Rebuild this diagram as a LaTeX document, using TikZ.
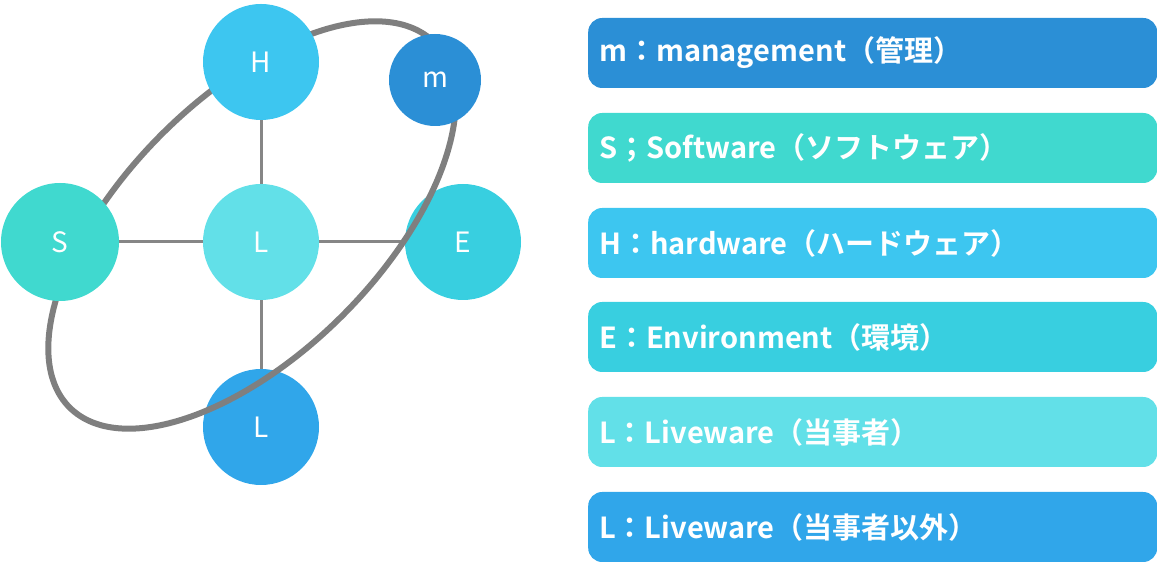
\documentclass[tikz,border=0pt]{standalone}
\usepackage{fontspec}
\setmainfont{Noto Sans CJK JP}
\newfontfamily\cjkb{Noto Sans CJK JP Bold}
\begin{document}
\begin{tikzpicture}[x=1pt,y=1pt,
  circ/.style={circle,draw=none,text=white,font=\fontsize{28}{30}\selectfont},
  box/.style={rounded corners=14pt,minimum width=569pt,minimum height=70pt,anchor=west,text=white,inner sep=0pt,
     text width=547pt,align=left,font=\cjkb\fontsize{29}{31}\selectfont},
  link/.style={draw=gray!95,line width=3pt}]
\definecolor{cm}{HTML}{2B8FD6}\definecolor{cs}{HTML}{40D9CF}\definecolor{ch}{HTML}{3DC6F0}
\definecolor{ce}{HTML}{38CFE0}\definecolor{cl}{HTML}{62E0E8}\definecolor{clb}{HTML}{30A6EA}
\definecolor{eg}{HTML}{7F7F7F}
\useasboundingbox (0,0) rectangle (1157,573);
\coordinate (Hc) at (261,511); \coordinate (Sc) at (60,331);
\coordinate (Lc) at (261,331); \coordinate (Ec) at (463,331); \coordinate (Bc) at (261,146);
\draw[link] (Hc)--(Lc) (Sc)--(Lc) (Lc)--(Ec) (Lc)--(Bc);
\node[circ,fill=ce,minimum size=116pt] (E) at (Ec) {E};
\node[circ,fill=clb,minimum size=116pt] (B) at (Bc) {L};
\draw[eg,line width=6pt,rotate around={45:(252,348)}] (252,348) ellipse (258pt and 128pt);
\node[circ,fill=ch,minimum size=116pt] (H) at (Hc) {H};
\node[circ,fill=cs,minimum size=118pt] (S) at (Sc) {S};
\node[circ,fill=cl,minimum size=116pt] (L) at (Lc) {L};
\node[circ,fill=cm,minimum size=92pt] (m) at (435,493) {m};
\node[box,fill=cm] (b1) at (588,520) {m：management（管理）};
\node[box,fill=cs] (b2) at (588,425) {S；Software（ソフトウェア）};
\node[box,fill=ch] (b3) at (588,330) {H：hardware（ハードウェア）};
\node[box,fill=ce] (b4) at (588,236) {E：Environment（環境）};
\node[box,fill=cl] (b5) at (588,141) {L：Liveware（当事者）};
\node[box,fill=clb] (b6) at (588,46) {L：Liveware（当事者以外）};
\end{tikzpicture}
\end{document}
